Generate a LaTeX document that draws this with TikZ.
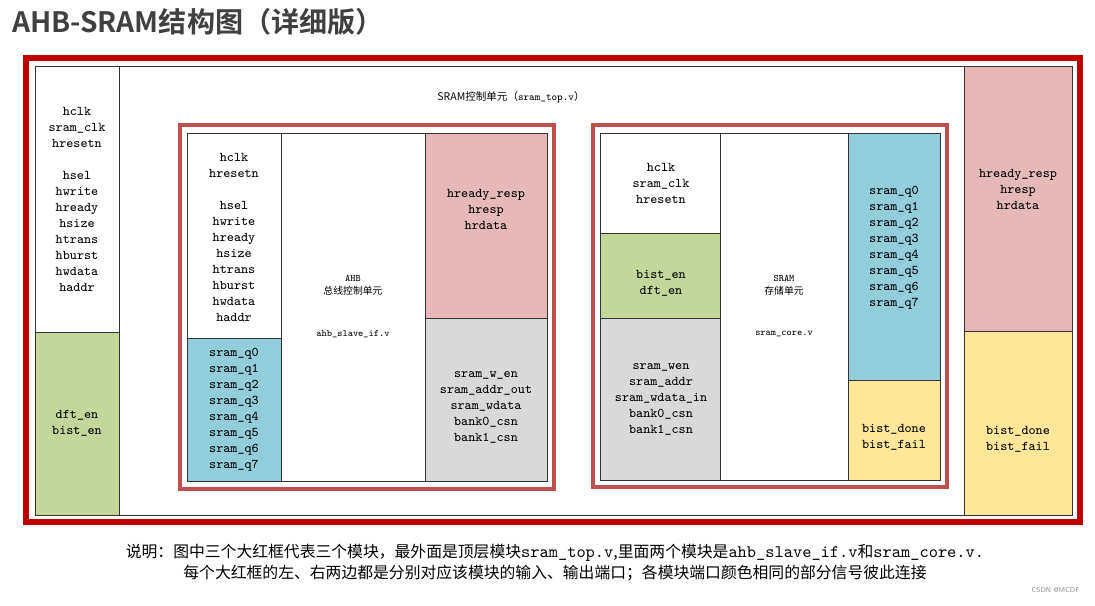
\documentclass[tikz,border=0pt]{standalone}
\usepackage{fontspec}
\newfontfamily\cjk{Noto Sans CJK SC}
\newfontfamily\cjkb{Noto Sans CJK SC Bold}
\definecolor{outred}{HTML}{C00000}
\definecolor{inred}{HTML}{C0504D}
\definecolor{cgreen}{HTML}{C4D79B}
\definecolor{cblue}{HTML}{92CDDC}
\definecolor{cpink}{HTML}{E6B8B7}
\definecolor{cyell}{HTML}{FFE699}
\definecolor{cgray}{HTML}{D9D9D9}
\definecolor{ttl}{HTML}{404040}
\tikzset{
 cell/.style={draw=black!80,line width=0.5pt},
 sig/.style={font=\ttfamily\fontsize{7.6}{9.1}\selectfont,align=center,inner sep=0pt},
 mid/.style={font=\ttfamily\fontsize{5.6}{7.4}\selectfont,align=center,inner sep=0pt},
}
\begin{document}
\begin{tikzpicture}[x=0.02cm,y=-0.02cm]
\useasboundingbox (0,0) rectangle (1095,605);
\node[anchor=west,font=\cjkb\fontsize{16}{18}\selectfont,text=ttl,inner sep=0pt] (title) at (12,22) {AHB-SRAM结构图（详细版）};
% outer
\draw[outred,line width=3.5pt] (26,58) rectangle (1080,522);
\filldraw[cell,fill=white] (35,66) rectangle (119,332);
\filldraw[cell,fill=cgreen] (35,332) rectangle (119,515);
\filldraw[cell,fill=white] (119,66) rectangle (964,515);
\filldraw[cell,fill=cpink] (964,66) rectangle (1072,331);
\filldraw[cell,fill=cyell] (964,331) rectangle (1072,515);
\node[font=\cjk\fontsize{6}{7}\selectfont,inner sep=0pt] (top) at (511,97) {SRAM控制单元（{\ttfamily sram\_top.v}）};
\node[sig] (oin) at (77,199.5) {hclk\\sram\_clk\\hresetn\\[9.1pt]hsel\\hwrite\\hready\\hsize\\htrans\\hburst\\hwdata\\haddr};
\node[sig] (oin2) at (77,423) {dft\_en\\bist\_en};
\node[sig] (oout) at (1018,189.5) {hready\_resp\\hresp\\hrdata};
\node[sig] (oout2) at (1018,439) {bist\_done\\bist\_fail};
% inner 1
\draw[inred,line width=2.3pt] (180,125) rectangle (554,489);
\filldraw[cell,fill=white] (187,133) rectangle (281,338);
\filldraw[cell,fill=cblue] (187,338) rectangle (281,481);
\filldraw[cell,fill=white] (281,133) rectangle (425,481);
\filldraw[cell,fill=cpink] (425,133) rectangle (547,318);
\filldraw[cell,fill=cgray] (425,318) rectangle (547,481);
\node[sig] (ain) at (234,237.5) {hclk\\hresetn\\[9.1pt]hsel\\hwrite\\hready\\hsize\\htrans\\hburst\\hwdata\\haddr};
\node[sig] (aq) at (234,410) {sram\_q0\\sram\_q1\\sram\_q2\\sram\_q3\\sram\_q4\\sram\_q5\\sram\_q6\\sram\_q7};
\node[mid] (ahb) at (353,285) {AHB\\{\cjk 总线控制单元}};
\node[mid] (ahbv) at (353,334) {ahb\_slave\_if.v};
\node[sig] (aout) at (486,209) {hready\_resp\\hresp\\hrdata};
\node[sig] (aout2) at (486,407) {sram\_w\_en\\sram\_addr\_out\\sram\_wdata\\bank0\_csn\\bank1\_csn};
% inner 2
\draw[inred,line width=2.3pt] (593,125) rectangle (947,487);
\filldraw[cell,fill=white] (600,133) rectangle (720,233);
\filldraw[cell,fill=cgreen] (600,233) rectangle (720,318);
\filldraw[cell,fill=cgray] (600,318) rectangle (720,480);
\filldraw[cell,fill=white] (720,133) rectangle (848,480);
\filldraw[cell,fill=cblue] (848,133) rectangle (940,380);
\filldraw[cell,fill=cyell] (848,380) rectangle (940,480);
\node[sig] (sin) at (661,183) {hclk\\sram\_clk\\hresetn};
\node[sig] (sin2) at (661,283) {bist\_en\\dft\_en};
\node[sig] (sin3) at (661,399.5) {sram\_wen\\sram\_addr\\sram\_wdata\_in\\bank0\_csn\\bank1\_csn};
\node[mid] (sram) at (784,285) {SRAM\\{\cjk 存储单元}};
\node[mid] (sramv) at (784,334) {sram\_core.v};
\node[sig] (sq) at (894,248) {sram\_q0\\sram\_q1\\sram\_q2\\sram\_q3\\sram\_q4\\sram\_q5\\sram\_q6\\sram\_q7};
\node[sig] (sout) at (894,437) {bist\_done\\bist\_fail};
% caption
\node[font=\cjk\fontsize{9}{12}\selectfont,align=center,inner sep=0pt] (cap) at (555,562.5) {说明：图中三个大红框代表三个模块，最外面是顶层模块{\ttfamily\fontsize{10}{12}\selectfont sram\_top.v},里面两个模块是{\ttfamily\fontsize{10}{12}\selectfont ahb\_slave\_if.v}和{\ttfamily\fontsize{10}{12}\selectfont sram\_core.v.}\\每个大红框的左、右两边都是分别对应该模块的输入、输出端口；各模块端口颜色相同的部分信号彼此连接};
\node[font=\sffamily\fontsize{4}{5}\selectfont,text=black!45,anchor=east,inner sep=0pt] (csdn) at (1080,590) {CSDN @MCDF};
\end{tikzpicture}
\end{document}
